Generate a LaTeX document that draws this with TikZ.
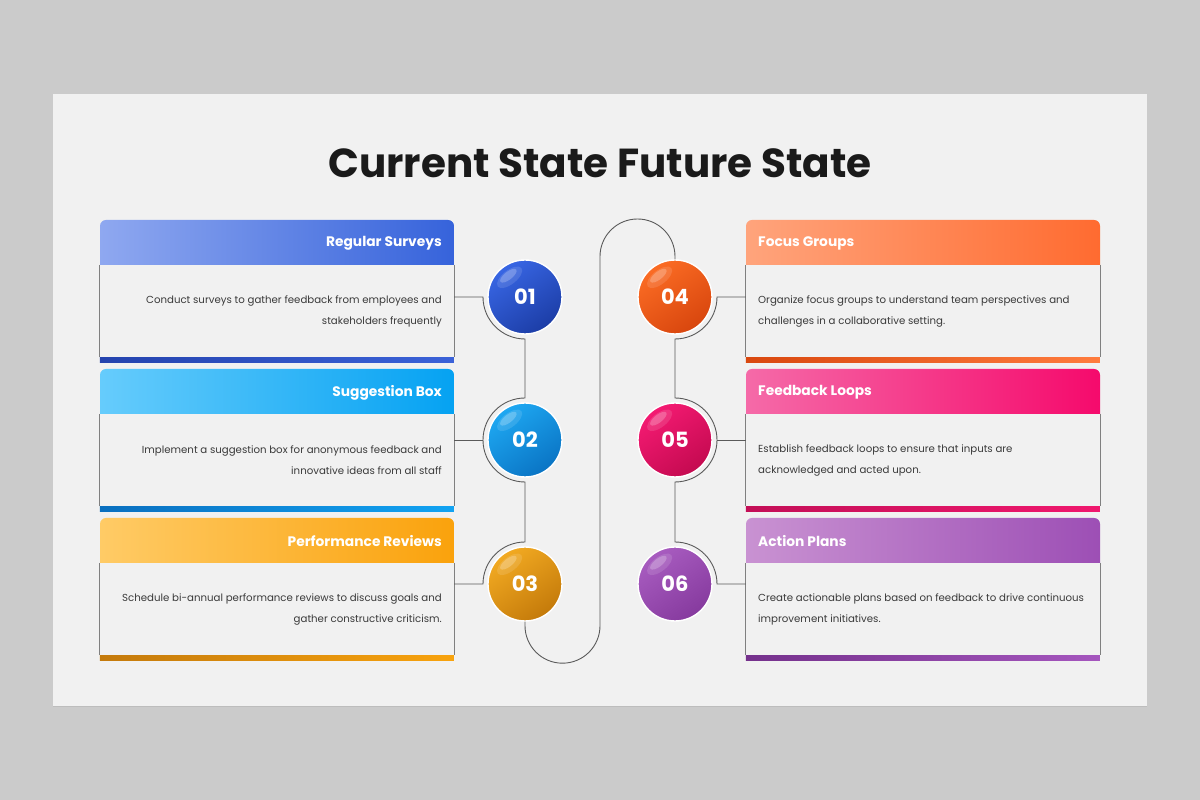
\documentclass[tikz,border=0pt]{standalone}
\usepackage{fontspec}
\setmainfont{Poppins}
\usetikzlibrary{positioning,shadows}

% page and card colours
\definecolor{pagebg}{HTML}{CBCBCB}
\definecolor{slidebg}{HTML}{F1F1F1}
\definecolor{titletext}{HTML}{1A1A1A}
\definecolor{bodytext}{HTML}{3A3A3A}
\definecolor{wiregray}{HTML}{5A5A5A}
\definecolor{headL1}{HTML}{8FA8F0}\definecolor{headR1}{HTML}{3663DB}
\definecolor{headL2}{HTML}{66CCFC}\definecolor{headR2}{HTML}{05A2F2}
\definecolor{headL3}{HTML}{FFCB66}\definecolor{headR3}{HTML}{FAA20C}
\definecolor{headL4}{HTML}{FFA47C}\definecolor{headR4}{HTML}{FF6B30}
\definecolor{headL5}{HTML}{F56AA8}\definecolor{headR5}{HTML}{F50A6C}
\definecolor{headL6}{HTML}{C992D2}\definecolor{headR6}{HTML}{9D4FB5}
\definecolor{stripeL1}{HTML}{2443AE}\definecolor{stripeR1}{HTML}{3B62D8}
\definecolor{stripeL2}{HTML}{0A6FBF}\definecolor{stripeR2}{HTML}{12A3F2}
\definecolor{stripeL3}{HTML}{C47A0C}\definecolor{stripeR3}{HTML}{F8A30E}
\definecolor{stripeL4}{HTML}{D9480F}\definecolor{stripeR4}{HTML}{FF7C3E}
\definecolor{stripeL5}{HTML}{C30F57}\definecolor{stripeR5}{HTML}{F0186E}
\definecolor{stripeL6}{HTML}{75318C}\definecolor{stripeR6}{HTML}{A556BE}
\definecolor{circA1}{HTML}{3866E4}\definecolor{circB1}{HTML}{1C3DA6}
\definecolor{circA2}{HTML}{1EA8F2}\definecolor{circB2}{HTML}{0A74C4}
\definecolor{circA3}{HTML}{F2AA22}\definecolor{circB3}{HTML}{C47A0A}
\definecolor{circA4}{HTML}{FB6C24}\definecolor{circB4}{HTML}{D8460E}
\definecolor{circA5}{HTML}{F41A72}\definecolor{circB5}{HTML}{C40A50}
\definecolor{circA6}{HTML}{A85CC0}\definecolor{circB6}{HTML}{863A9E}

\begin{document}
\begin{tikzpicture}[
        x=1pt, y=1pt,
        slide/.style={
            rectangle,
            fill=slidebg,
            minimum width=1094,
            minimum height=612,
            drop shadow={opacity=0.18, shadow xshift=0pt, shadow yshift=-1.5pt}
        },
        wire/.style={
            draw=wiregray,
            line width=0.9pt
        },
        head/.style={
            rounded corners=6pt
        },
        body/.style={
            rectangle,
            fill=slidebg,
            minimum width=354,
            minimum height=92,
            inner sep=0pt
        },
        edge/.style={
            draw=black!50,
            line width=0.8pt
        },
        ring/.style={
            circle,
            minimum size=84,
            inner sep=0pt,
            outer sep=0pt
        },
        num/.style={
            circle,
            minimum size=74,
            inner sep=0pt,
            draw=white,
            line width=1.4pt,
            text=white,
            font=\fontsize{21}{24}\selectfont\bfseries
        },
        ltitle/.style={
            anchor=east,
            inner sep=0pt,
            text=white,
            font=\fontsize{13.8}{16}\selectfont\bfseries
        },
        rtitle/.style={
            ltitle,
            anchor=west
        },
        ltext/.style={
            anchor=east,
            align=right,
            inner sep=0pt,
            text=bodytext,
            font=\fontsize{10.2}{21}\selectfont
        },
        rtext/.style={
            ltext,
            anchor=west,
            align=left
        }
    ]
        % Page and slide
        \fill[pagebg] (0,0) rectangle (1200,800);
        \useasboundingbox (0,0) rectangle (1200,800);
        \node[slide] (slide) at (600,400) {};
        \node[font=\fontsize{40.5}{48}\selectfont\bfseries, text=titletext] (title) at (600,637) {Current State Future State};

        % Card frames
        \foreach \n/\x/\t in {1/100/580,2/100/431,3/100/282,4/746/580,5/746/431,6/746/282} {
            \shade[head, left color=headL\n, right color=headR\n] (\x,\t-53) rectangle ++(354,53);
            \node[body] (b\n) at (\x+177,\t-91) {};
            \draw[edge] (b\n.north west) -- (b\n.south west) (b\n.north east) -- (b\n.south east);
            \shade[left color=stripeL\n, right color=stripeR\n] (b\n.south west) rectangle ++(354,-5);
        }

        % Rings round the numbers
        \foreach \n/\x/\y in {1/525/503,2/525/360,3/525/216,4/675/503,5/675/360,6/675/216} {
            \node[ring] (r\n) at (\x,\y) {};
        }

        % Connectors
        \draw[wire] (r1.west -| b1.east) -- (r1.west) arc[start angle=180, end angle=270, radius=42]
            -- (r2.north) arc[start angle=90, end angle=270, radius=42]
            -- (r3.north) arc[start angle=90, end angle=180, radius=42] -- (r3.west -| b3.east);
        \draw[wire] (r2.west) -- (r2.west -| b2.east);
        \draw[wire] (r4.east -| b4.west) -- (r4.east) arc[start angle=0, end angle=-90, radius=42]
            -- (r5.north) arc[start angle=90, end angle=-90, radius=42]
            -- (r6.north) arc[start angle=90, end angle=0, radius=42] -- (r6.east -| b6.west);
        \draw[wire] (r5.east) -- (r5.east -| b5.west);

        % Numbers
        \foreach \n/\x/\y in {1/525/503,2/525/360,3/525/216,4/675/503,5/675/360,6/675/216} {
            \node[num, top color=circA\n, bottom color=circB\n, shading angle=35] (c\n) at (\x,\y) {0\n};
            \fill[white, opacity=0.12, shift={(\x,\y)}, rotate=38] (0,25) ellipse (15 and 7);
            \fill[white, opacity=0.22, shift={(\x,\y)}, rotate=38] (0,27) ellipse (10 and 4);
        }
        \draw[wire] (c3.south) -- ++(0,-4) arc[start angle=180, end angle=360, radius=37.5]
            -- (600,543.5) arc[start angle=180, end angle=0, radius=37.5] -- (c4.north);

        % Left cards
        \node[ltitle] (t1) at (442,556.5) {Regular Surveys};
        \node[ltext] (d1) at (442,488.5) {Conduct surveys to gather feedback from employees and\\stakeholders frequently};
        \node[ltitle] (t2) at (442,407.5) {Suggestion Box};
        \node[ltext] (d2) at (442,339.5) {Implement a suggestion box for anonymous feedback and\\innovative ideas from all staff};
        \node[ltitle] (t3) at (442,258.5) {Performance Reviews};
        \node[ltext] (d3) at (442,190.5) {Schedule bi-annual performance reviews to discuss goals and\\gather constructive criticism.};

        % Right cards
        \node[rtitle] (t4) at (758,556.5) {Focus Groups};
        \node[rtext] (d4) at (758,488.5) {Organize focus groups to understand team perspectives and\\challenges in a collaborative setting.};
        \node[rtitle] (t5) at (758,407.5) {Feedback Loops};
        \node[rtext] (d5) at (758,339.5) {Establish feedback loops to ensure that inputs are\\acknowledged and acted upon.};
        \node[rtitle] (t6) at (758,258.5) {Action Plans};
        \node[rtext] (d6) at (758,190.5) {Create actionable plans based on feedback to drive continuous\\improvement initiatives.};
    \end{tikzpicture}
\end{document}
